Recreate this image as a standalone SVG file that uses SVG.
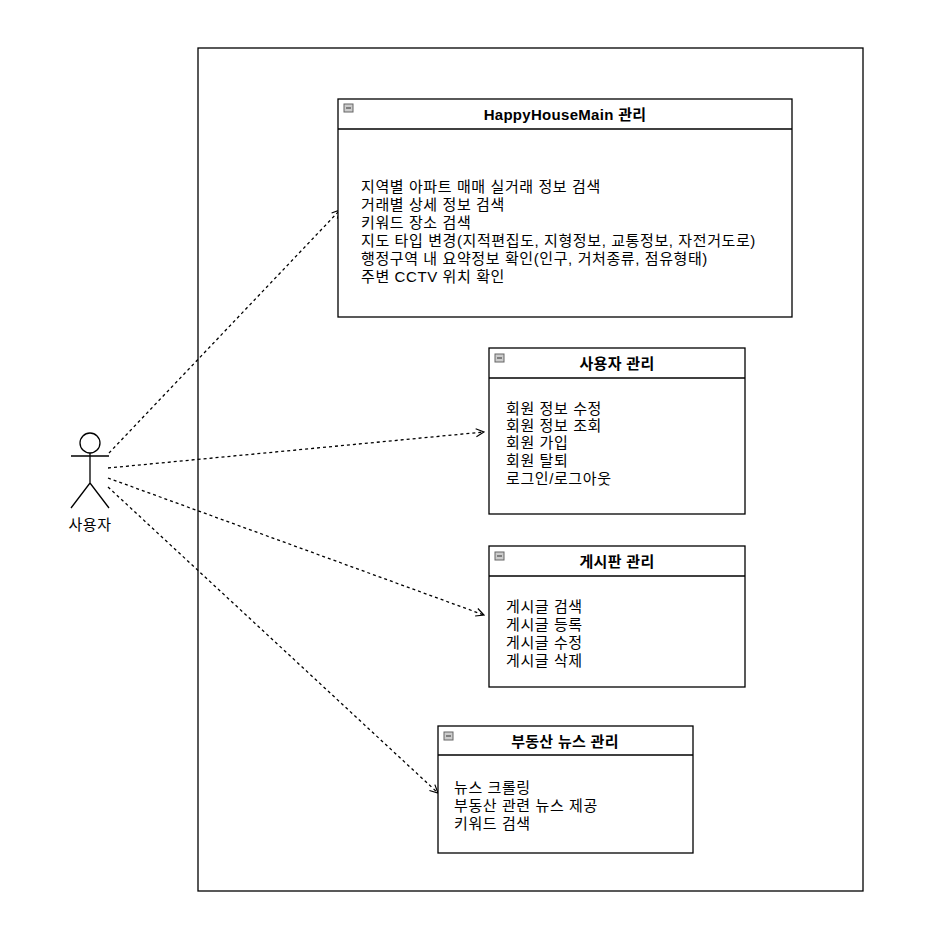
<svg xmlns="http://www.w3.org/2000/svg" width="940" height="925" viewBox="0 0 940 925">
<style>
.box{fill:#fff;stroke:#000;stroke-width:1.3}
.t{font-family:"Liberation Sans","Noto Sans CJK KR",sans-serif;font-size:15px;letter-spacing:0.6px;fill:#000}
.h{font-family:"Liberation Sans","Noto Sans CJK KR",sans-serif;font-size:15px;font-weight:bold;letter-spacing:0.3px;fill:#000;text-anchor:middle}
.ic{fill:#ccc;stroke:#666;stroke-width:1}
.c{fill:none;stroke:#000;stroke-width:1.3;stroke-dasharray:3,3}
</style>
<defs><marker id="a" markerWidth="10" markerHeight="10" refX="9" refY="5" orient="auto" markerUnits="userSpaceOnUse"><path d="M1,1 L9,5 L1,9" fill="none" stroke="#000" stroke-width="1.2"/></marker></defs>
<rect width="940" height="925" fill="#fff"/>
<rect x="198" y="48" width="665" height="843" fill="none" stroke="#000" stroke-width="1.3"/>
<g id="actor" fill="none" stroke="#000" stroke-width="1.3">
<circle cx="90" cy="443" r="10"/>
<path d="M90,453 V483 M71,456 H109 M90,483 L71,508 M90,483 L109,508"/>
<text class="t" x="90" y="530" text-anchor="middle" stroke="none">사용자</text>
</g>
<g id="connectors">
<path class="c" d="M109,453 L340,210" marker-end="url(#a)"/>
<path class="c" d="M108,468 L484,432" marker-end="url(#a)"/>
<path class="c" d="M108,478 L484,615" marker-end="url(#a)"/>
<path class="c" d="M108,487 L438,793" marker-end="url(#a)"/>
</g>
<g id="main">
<rect class="box" x="338" y="99" width="454" height="218"/>
<line x1="338" y1="129" x2="792" y2="129" stroke="#000" stroke-width="1.3"/>
<rect class="ic" x="344" y="104" width="9" height="8"/><line x1="346" y1="108" x2="351" y2="108" stroke="#333"/>
<text class="h" x="565" y="120">HappyHouseMain 관리</text>
<text class="t" x="361" y="192">지역별 아파트 매매 실거래 정보 검색</text>
<text class="t" x="361" y="210">거래별 상세 정보 검색</text>
<text class="t" x="361" y="228">키워드 장소 검색</text>
<text class="t" x="361" y="246">지도 타입 변경(지적편집도, 지형정보, 교통정보, 자전거도로)</text>
<text class="t" x="361" y="264">행정구역 내 요약정보 확인(인구, 거처종류, 점유형태)</text>
<text class="t" x="361" y="282">주변 CCTV 위치 확인</text>
</g>
<g id="user">
<rect class="box" x="489" y="348" width="256" height="166"/>
<line x1="489" y1="378" x2="745" y2="378" stroke="#000" stroke-width="1.3"/>
<rect class="ic" x="495" y="354" width="9" height="8"/><line x1="497" y1="358" x2="502" y2="358" stroke="#333"/>
<text class="h" x="617" y="369">사용자 관리</text>
<text class="t" x="506" y="414">회원 정보 수정</text>
<text class="t" x="506" y="431">회원 정보 조회</text>
<text class="t" x="506" y="448">회원 가입</text>
<text class="t" x="506" y="466">회원 탈퇴</text>
<text class="t" x="506" y="484">로그인/로그아웃</text>
</g>
<g id="board">
<rect class="box" x="489" y="546" width="256" height="141"/>
<line x1="489" y1="576" x2="745" y2="576" stroke="#000" stroke-width="1.3"/>
<rect class="ic" x="495" y="552" width="9" height="8"/><line x1="497" y1="556" x2="502" y2="556" stroke="#333"/>
<text class="h" x="617" y="567">게시판 관리</text>
<text class="t" x="506" y="612">게시글 검색</text>
<text class="t" x="506" y="630">게시글 등록</text>
<text class="t" x="506" y="648">게시글 수정</text>
<text class="t" x="506" y="666">게시글 삭제</text>
</g>
<g id="news">
<rect class="box" x="438" y="726" width="255" height="127"/>
<line x1="438" y1="755" x2="693" y2="755" stroke="#000" stroke-width="1.3"/>
<rect class="ic" x="444" y="732" width="9" height="8"/><line x1="446" y1="736" x2="451" y2="736" stroke="#333"/>
<text class="h" x="565" y="747">부동산 뉴스 관리</text>
<text class="t" x="454" y="793">뉴스 크롤링</text>
<text class="t" x="454" y="811">부동산 관련 뉴스 제공</text>
<text class="t" x="454" y="829">키워드 검색</text>
</g>
</svg>
